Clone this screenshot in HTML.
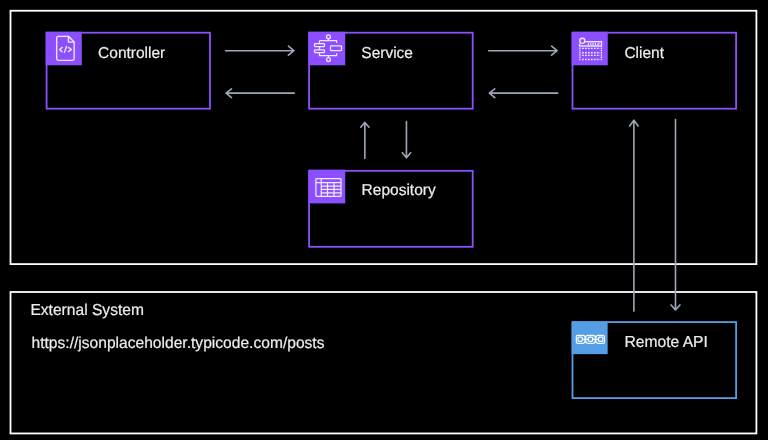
<!DOCTYPE html>
<html><head><meta charset="utf-8"><style>
html,body{margin:0;padding:0;background:#000;width:768px;height:440px;overflow:hidden}
svg{display:block}
text{font-family:"Liberation Sans",sans-serif;font-size:15.5px;fill:#fff}

.lbl text{fill:#ededed;stroke:#ededed;stroke-width:0.2px;text-rendering:geometricPrecision}
.lbl{filter:blur(0.33px)}
.ico{filter:blur(0.25px)}
</style></head><body>
<svg width="768" height="440" viewBox="0 0 768 440">
<rect x="0" y="0" width="768" height="440" fill="#000"/>
<!-- outer groups -->
<rect x="10.5" y="10.75" width="745.9" height="253.35" fill="none" stroke="#fff" stroke-width="1.8"/>
<rect x="10.5" y="292" width="745.9" height="141.45" fill="none" stroke="#fff" stroke-width="1.8"/>

<!-- purple boxes -->
<g fill="none" stroke="#8C4FFF" stroke-width="1.8">
<rect x="46.6" y="32.7" width="163.4" height="76"/>
<rect x="309.1" y="32.7" width="163.6" height="76"/>
<rect x="572.5" y="32.7" width="163.6" height="76"/>
<rect x="309.1" y="170.8" width="163.6" height="76"/>
</g>
<rect x="572.5" y="322.1" width="163.6" height="76" fill="none" stroke="#559EE6" stroke-width="1.8"/>

<!-- icon squares -->
<g fill="#8C4FFF">
<rect x="45.7" y="31.75" width="36.1" height="33.55"/>
<rect x="308.45" y="31.75" width="36.8" height="33.55"/>
<rect x="571.65" y="31.75" width="36.1" height="33.55"/>
<rect x="308.45" y="169.7" width="36.8" height="33.7"/>
</g>
<rect x="571.65" y="321.45" width="36" height="32.7" fill="#559EE6"/>

<g class="ico">
<!-- Controller icon: code file -->
<g fill="none" stroke="#F0E8FF" stroke-width="1.35" stroke-linejoin="round" stroke-linecap="round">
<path d="M68.45 36.35 H58.4 Q56.65 36.35 56.65 38.1 V58.55 Q56.65 60.3 58.4 60.3 H72.4 Q74.15 60.3 74.15 58.55 V42.05 Z"/>
<path d="M68.45 36.35 V42.05 H74.15"/>
<path d="M62.25 47.4 L59.6 49.45 L62.1 51.75"/>
<path d="M66.5 46.5 L64.45 52.4"/>
<path d="M68.5 47.4 L71.45 49.45 L68.4 51.65"/>
</g>

<!-- Service icon: workflow -->
<g fill="none" stroke="#F0E8FF" stroke-width="1.25">
<circle cx="328.46" cy="36.8" r="1.95"/>
<path d="M328.46 38.75 V40.7 M319.5 40.7 H336.6 V43.1 M319.5 40.7 V43.6 M319.5 46.5 V49.9 M319.5 52.4 V55.55 H336.6 V53.2 M328.46 55.55 V57.5"/>
<circle cx="328.46" cy="59.5" r="1.95"/>
<rect x="314.5" y="43.6" width="10" height="2.9" rx="0.5"/>
<rect x="314.5" y="49.9" width="10" height="2.6" rx="0.5"/>
<rect x="330.5" y="45.75" width="11" height="4.8" rx="0.5"/>
</g>

<!-- Client icon -->
<g fill="none" stroke="#ECE6FA" stroke-width="1.35">
<circle cx="582.35" cy="40.75" r="2.55"/>
<path d="M585 41.6 H601.5 V46 H579.6 V43.5"/>
<path d="M588.4 42.6 V45.3 M590.8 42.6 V45.3 M593.1 42.6 V45.3 M595.4 42.6 V45.3 M599.3 42.6 L597.5 45.2" stroke-width="1.15"/>
<path d="M582.05 48.3 H600 M582.05 52.7 H600 M582.05 55.4 H600 M582.05 59.5 H600" stroke-dasharray="1.75 1.2"/>
<path d="M579.9 47.6 V60.2 M601.4 47.6 V60.2" stroke-dasharray="1.5 0.75"/>
</g>

<!-- Repository icon: table -->
<g fill="none" stroke="#F0E8FF" stroke-width="1.25">
<rect x="315.9" y="178.5" width="25.1" height="17.75" rx="0.7"/>
<path d="M321.25 178.5 V196.25 M315.9 182.5 H341 M327.5 182.5 V196.25 M334 182.5 V196.25 M321.25 186 H341 M321.25 189.4 H341 M321.25 192.8 H341"/>
</g>

<!-- Remote API icon -->
<g fill="none" stroke="#F4F9FF" stroke-width="1.25" stroke-linejoin="round">
<path d="M577.7 335.3 H583.3 Q584.3 335.3 584.7 336.3 L585.4 339.3 L586.1 336.3 Q586.5 335.3 587.5 335.3 H593.5 Q594.5 335.3 594.9 336.3 L595.6 339.3 L596.3 336.3 Q596.7 335.3 597.7 335.3 H603.1 Q604.4 335.3 604.4 336.6 V342 Q604.4 343.3 603.1 343.3 H597.7 Q596.7 343.3 596.3 342.3 L595.6 339.3 L594.9 342.3 Q594.5 343.3 593.5 343.3 H587.5 Q586.5 343.3 586.1 342.3 L585.4 339.3 L584.7 342.3 Q584.3 343.3 583.3 343.3 H577.7 Q576.4 343.3 576.4 342 V336.6 Q576.4 335.3 577.7 335.3 Z"/>
<rect x="578.1" y="337.2" width="4.2" height="4.2" rx="0.8"/>
<rect x="588.4" y="337.2" width="4.2" height="4.2" rx="0.8"/>
<rect x="598.6" y="337.2" width="4.2" height="4.2" rx="0.8"/>
<path d="M582.3 339.3 H588.4 M592.6 339.3 H598.6"/>
</g>

</g>

<!-- arrows -->
<g fill="none" stroke="#9DA8B6" stroke-width="1.6" stroke-linecap="round" stroke-linejoin="round">
<path d="M225.6 50.7 H293.9 M288.4 46.2 L293.9 50.7 L288.4 55.2"/>
<path d="M488.7 50.7 H557.1 M551.6 46.2 L557.1 50.7 L551.6 55.2"/>
<path d="M294.4 93.1 H226 M231.5 88.9 L226 93.1 L231.5 97.6"/>
<path d="M557.7 93.1 H489.3 M494.8 88.9 L489.3 93.1 L494.8 97.6"/>
<path d="M364.85 158.5 V122.4 M360.7 127.2 L364.85 122.4 L369 127.2"/>
<path d="M406.45 121.5 V157.8 M402.3 152.7 L406.45 157.8 L410.6 152.7"/>
<path d="M633.9 311.1 V120.2 M629.6 125.9 L633.9 120.2 L638.2 125.9"/>
<path d="M675.5 119.5 V310 M671.1 304.9 L675.5 310 L679.9 304.9"/>
</g>

<!-- labels -->
<g class="lbl">
<text x="98.1" y="0" transform="translate(0 57.7) scale(1 1.02)" style="font-size:15.5px">Controller</text>
<text x="361.3" y="0" transform="translate(0 57.7) scale(1 1.02)" style="font-size:15.5px">Service</text>
<text x="624.4" y="0" transform="translate(0 57.7) scale(1 1.02)" style="font-size:15.5px">Client</text>
<text x="361.6" y="0" transform="translate(0 195.2) scale(1 1.02)" style="font-size:15.5px">Repository</text>
<text x="624.5" y="0" transform="translate(0 346.8) scale(1 1.02)" style="font-size:15.62px">Remote API</text>
<text x="30.4" y="0" transform="translate(0 314.6) scale(1 1.02)" style="font-size:15.6px">External System</text>
<text x="31.5" y="0" transform="translate(0 347.6) scale(1 1.02)" style="font-size:15.6px">https://jsonplaceholder.typicode.com/posts</text>
</g>
</svg>
</body></html>
